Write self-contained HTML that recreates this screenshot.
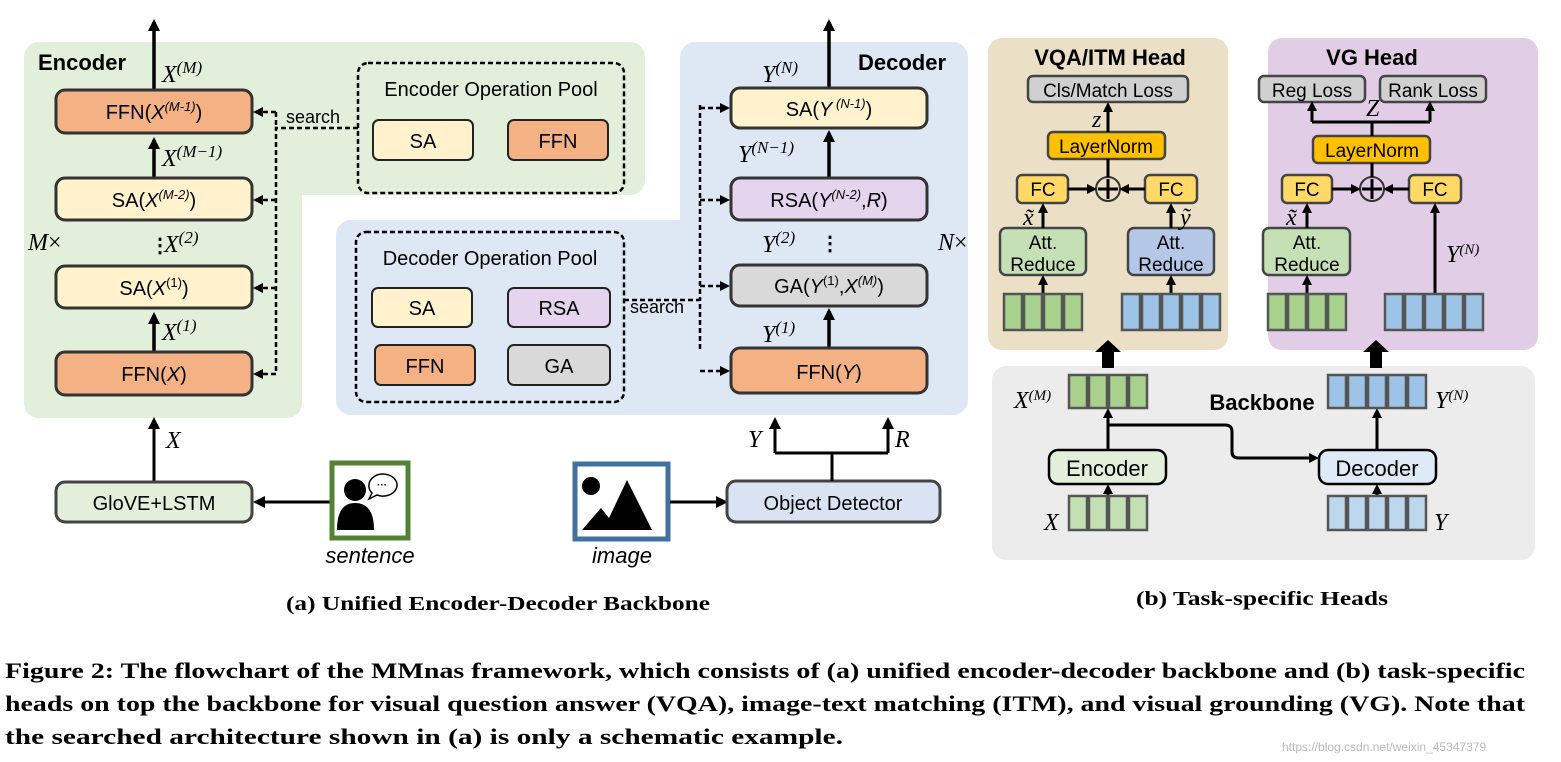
<!DOCTYPE html>
<html><head><meta charset="utf-8"><style>
body{margin:0;background:#fff}
svg{display:block}
text{font-family:"Liberation Sans",sans-serif}
text.m{font-family:"Liberation Serif",serif;font-style:italic;font-size:24px}
.b{stroke:#333;stroke-width:3}
.t{font-size:20px;text-anchor:middle}
text.c{font-family:"Liberation Serif",serif;font-weight:bold}
</style></head><body>
<svg width="1561" height="762" viewBox="0 0 1561 762">
<defs>
<marker id="a" markerWidth="10" markerHeight="10" refX="7" refY="5" orient="auto" markerUnits="userSpaceOnUse"><path d="M0,0L10,5L0,10z" fill="#000"/></marker>
<marker id="ab" markerWidth="12" markerHeight="12" refX="9" refY="6" orient="auto" markerUnits="userSpaceOnUse"><path d="M0,0L12,6L0,12z" fill="#000"/></marker>
</defs>
<path d="M39,42H630a15,15 0 0 1 15,15V180a15,15 0 0 1-15,15H302V403a15,15 0 0 1-15,15H39a15,15 0 0 1-15-15V57a15,15 0 0 1 15-15z" fill="#e2efda"/>
<path d="M695,42H953a15,15 0 0 1 15,15V400a15,15 0 0 1-15,15H351a15,15 0 0 1-15-15V235a15,15 0 0 1 15-15H680V57a15,15 0 0 1 15-15z" fill="#dde8f4"/>
<text x="38" y="70" font-size="22" font-weight="bold">Encoder</text>
<text x="858" y="70" font-size="22" font-weight="bold">Decoder</text>
<line x1="154" y1="90" x2="154" y2="22" stroke="#000" stroke-width="3.5" marker-end="url(#ab)"/>
<line x1="154" y1="178" x2="154" y2="140" stroke="#000" stroke-width="3.5" marker-end="url(#ab)"/>
<line x1="154" y1="352" x2="154" y2="315" stroke="#000" stroke-width="3.5" marker-end="url(#ab)"/>
<rect x="56" y="90" width="196" height="43" rx="9" fill="#f4b183" class="b"/>
<rect x="56" y="178" width="196" height="42" rx="9" fill="#fff2cc" class="b"/>
<rect x="56" y="266" width="196" height="42" rx="9" fill="#fff2cc" class="b"/>
<rect x="56" y="352" width="196" height="43" rx="9" fill="#f4b183" class="b"/>
<text x="154" y="119" class="t">FFN(<tspan font-style="italic">X</tspan><tspan font-size="13" dy="-8" font-style="italic">(M-1)</tspan><tspan dy="8">)</tspan></text>
<text x="154" y="207" class="t">SA(<tspan font-style="italic">X</tspan><tspan font-size="13" dy="-8" font-style="italic">(M-2)</tspan><tspan dy="8">)</tspan></text>
<text x="154" y="295" class="t">SA(<tspan font-style="italic">X</tspan><tspan font-size="13" dy="-8">(1)</tspan><tspan dy="8">)</tspan></text>
<text x="154" y="381" class="t">FFN(<tspan font-style="italic">X</tspan>)</text>
<text x="162" y="82" class="m">X<tspan font-size="17" dy="-9">(M)</tspan></text>
<text x="162" y="166" class="m">X<tspan font-size="17" dy="-9">(M−1)</tspan></text>
<text x="150" y="252" font-size="20" font-weight="bold">⋮</text>
<text x="164" y="252" class="m">X<tspan font-size="17" dy="-9">(2)</tspan></text>
<text x="28" y="250" class="m">M<tspan font-style="normal">×</tspan></text>
<text x="162" y="340" class="m">X<tspan font-size="17" dy="-9">(1)</tspan></text>
<g fill="none" stroke="#000" stroke-width="2.5" stroke-dasharray="5,3">
<path d="M358,128H276V374"/>
<line x1="276" y1="112" x2="256" y2="112" marker-end="url(#a)"/>
<line x1="276" y1="200" x2="256" y2="200" marker-end="url(#a)"/>
<line x1="276" y1="288" x2="256" y2="288" marker-end="url(#a)"/>
<line x1="276" y1="374" x2="256" y2="374" marker-end="url(#a)"/>
<path d="M276,112V128"/>
<rect x="358" y="63" width="266" height="130" rx="10"/>
<rect x="356" y="232" width="268" height="170" rx="10"/>
<path d="M624,300H700V352"/><path d="M700,105V300"/>
<line x1="700" y1="108" x2="727" y2="108" marker-end="url(#a)"/>
<line x1="700" y1="200" x2="727" y2="200" marker-end="url(#a)"/>
<line x1="700" y1="286" x2="727" y2="286" marker-end="url(#a)"/>
<line x1="700" y1="371" x2="727" y2="371" marker-end="url(#a)"/>
</g>
<text x="286" y="123" font-size="18">search</text>
<text x="630" y="313" font-size="18">search</text>
<text x="491" y="96" class="t" font-size="19">Encoder Operation Pool</text>
<rect x="373" y="120" width="100" height="40" rx="6" fill="#fff2cc" stroke="#222" stroke-width="2"/>
<rect x="508" y="120" width="100" height="40" rx="6" fill="#f4b183" stroke="#222" stroke-width="2"/>
<text x="423" y="148" class="t">SA</text><text x="558" y="148" class="t">FFN</text>
<text x="490" y="265" class="t" font-size="19">Decoder Operation Pool</text>
<rect x="372" y="288" width="100" height="39" rx="6" fill="#fff2cc" stroke="#222" stroke-width="2"/>
<rect x="508" y="288" width="102" height="39" rx="6" fill="#e4d4ee" stroke="#222" stroke-width="2"/>
<rect x="375" y="345" width="100" height="40" rx="6" fill="#f4b183" stroke="#222" stroke-width="2"/>
<rect x="508" y="345" width="102" height="40" rx="6" fill="#d9d9d9" stroke="#222" stroke-width="2"/>
<text x="422" y="315" class="t">SA</text><text x="559" y="315" class="t">RSA</text>
<text x="425" y="373" class="t">FFN</text><text x="559" y="373" class="t">GA</text>
<line x1="829" y1="88" x2="829" y2="22" stroke="#000" stroke-width="3.5" marker-end="url(#ab)"/>
<line x1="829" y1="178" x2="829" y2="133" stroke="#000" stroke-width="3.5" marker-end="url(#ab)"/>
<line x1="829" y1="348" x2="829" y2="311" stroke="#000" stroke-width="3.5" marker-end="url(#ab)"/>
<rect x="731" y="88" width="196" height="40" rx="9" fill="#fff2cc" class="b"/>
<rect x="731" y="178" width="196" height="42" rx="9" fill="#e4d4ee" class="b"/>
<rect x="731" y="265" width="196" height="41" rx="9" fill="#d9d9d9" class="b"/>
<rect x="731" y="348" width="196" height="45" rx="9" fill="#f4b183" class="b"/>
<text x="829" y="116" class="t">SA(<tspan font-style="italic">Y</tspan><tspan font-size="13" dy="-8" font-style="italic"> (N-1)</tspan><tspan dy="8">)</tspan></text>
<text x="829" y="207" class="t">RSA(<tspan font-style="italic">Y</tspan><tspan font-size="13" dy="-8" font-style="italic">(N-2)</tspan><tspan dy="8">,<tspan font-style="italic">R</tspan>)</tspan></text>
<text x="829" y="293" class="t">GA(<tspan font-style="italic">Y</tspan><tspan font-size="13" dy="-8">(1)</tspan><tspan dy="8">,<tspan font-style="italic">X</tspan></tspan><tspan font-size="13" dy="-8" font-style="italic">(M)</tspan><tspan dy="8">)</tspan></text>
<text x="829" y="379" class="t">FFN(<tspan font-style="italic">Y</tspan>)</text>
<text x="762" y="82" class="m">Y<tspan font-size="17" dy="-9">(N)</tspan></text>
<text x="738" y="162" class="m">Y<tspan font-size="17" dy="-9">(N−1)</tspan></text>
<text x="762" y="252" class="m">Y<tspan font-size="17" dy="-9">(2)</tspan></text>
<text x="820" y="250" font-size="20" font-weight="bold">⋮</text>
<text x="938" y="250" class="m">N<tspan font-style="normal">×</tspan></text>
<text x="762" y="342" class="m">Y<tspan font-size="17" dy="-9">(1)</tspan></text>
<line x1="154" y1="482" x2="154" y2="420" stroke="#000" stroke-width="3" marker-end="url(#ab)"/>
<text x="166" y="448" class="m">X</text>
<rect x="56" y="482" width="196" height="40" rx="9" fill="#e2efda" stroke="#444" stroke-width="3"/>
<text x="154" y="510" class="t">GloVE+LSTM</text>
<line x1="330" y1="502" x2="256" y2="502" stroke="#000" stroke-width="3" marker-end="url(#ab)"/>
<rect x="332" y="463" width="76" height="75" fill="#fff" stroke="#548235" stroke-width="5"/>
<circle cx="355" cy="490" r="11"/><path d="M337,530Q337,503 355,503Q374,503 374,530z"/>
<path d="M369,485a14,11 0 1 1 8,10l-8,4 3-6a14,11 0 0 1-3-8z" fill="#fff" stroke="#000" stroke-width="1.5"/>
<text x="377" y="488" font-size="10" font-weight="bold">···</text>
<text x="370" y="563" font-size="22" font-style="italic" text-anchor="middle">sentence</text>
<rect x="575" y="464" width="93" height="75" fill="#fff" stroke="#41719c" stroke-width="5"/>
<circle cx="591" cy="486" r="9"/><path d="M582,530L601,508 609,518 627,480 652,530z"/>
<text x="622" y="563" font-size="22" font-style="italic" text-anchor="middle">image</text>
<line x1="670" y1="502" x2="725" y2="502" stroke="#000" stroke-width="3" marker-end="url(#ab)"/>
<rect x="727" y="481" width="213" height="41" rx="9" fill="#dae3f3" stroke="#444" stroke-width="3"/>
<text x="833" y="510" class="t" font-size="21">Object Detector</text>
<path d="M832,481V453M775,453H888M775,453V424M888,453V424" fill="none" stroke="#000" stroke-width="3"/>
<line x1="775" y1="430" x2="775" y2="420" stroke="#000" stroke-width="3" marker-end="url(#ab)"/>
<line x1="888" y1="430" x2="888" y2="420" stroke="#000" stroke-width="3" marker-end="url(#ab)"/>
<text x="748" y="447" class="m">Y</text><text x="895" y="447" class="m">R</text>
<text x="286" y="610" class="c" font-size="20" textLength="424" lengthAdjust="spacingAndGlyphs">(a) Unified Encoder-Decoder Backbone</text>
<text x="1136" y="605" class="c" font-size="20" textLength="252" lengthAdjust="spacingAndGlyphs">(b) Task-specific Heads</text>
<rect x="988" y="38" width="240" height="312" rx="14" fill="#ebe0c5"/>
<rect x="1268" y="38" width="270" height="312" rx="14" fill="#e2cde6"/>
<rect x="992" y="366" width="543" height="194" rx="14" fill="#ececec"/>
<text x="1110" y="65" font-size="22" font-weight="bold" text-anchor="middle">VQA/ITM Head</text>
<text x="1372" y="65" font-size="22" font-weight="bold" text-anchor="middle">VG Head</text>
<g stroke="#444" stroke-width="2.5">
<rect x="1028" y="76" width="160" height="26" rx="5" fill="#d0d0d0"/>
<rect x="1259" y="76" width="106" height="26" rx="5" fill="#d0d0d0"/>
<rect x="1380" y="76" width="106" height="26" rx="5" fill="#d0d0d0"/>
<rect x="1048" y="132" width="117" height="27" rx="5" fill="#ffc000"/>
<rect x="1313" y="136" width="117" height="27" rx="5" fill="#ffc000"/>
<rect x="1017" y="175" width="51" height="28" rx="5" fill="#ffd966"/>
<rect x="1145" y="175" width="52" height="28" rx="5" fill="#ffd966"/>
<rect x="1282" y="175" width="50" height="28" rx="5" fill="#ffd966"/>
<rect x="1409" y="175" width="52" height="28" rx="5" fill="#ffd966"/>
<rect x="1000" y="228" width="86" height="47" rx="6" fill="#c5e0b4"/>
<rect x="1128" y="228" width="86" height="47" rx="6" fill="#b4c7e7"/>
<rect x="1263" y="228" width="87" height="47" rx="6" fill="#c5e0b4"/>
<rect x="1049" y="450" width="117" height="34" rx="9" fill="#e2efda" stroke="#000"/>
<rect x="1319" y="450" width="117" height="34" rx="9" fill="#deebf7" stroke="#000"/>
</g>
<g font-size="19" text-anchor="middle">
<text x="1108" y="97">Cls/Match Loss</text><text x="1312" y="97">Reg Loss</text><text x="1433" y="97">Rank Loss</text>
<text x="1106" y="153">LayerNorm</text><text x="1372" y="157">LayerNorm</text>
<text x="1043" y="196">FC</text><text x="1171" y="196">FC</text><text x="1307" y="196">FC</text><text x="1435" y="196">FC</text>
<text x="1043" y="249">Att.</text><text x="1043" y="271">Reduce</text>
<text x="1171" y="249">Att.</text><text x="1171" y="271">Reduce</text>
<text x="1307" y="249">Att.</text><text x="1307" y="271">Reduce</text>
<text x="1107" y="476" font-size="22">Encoder</text><text x="1377" y="476" font-size="22">Decoder</text>
</g>
<text x="1262" y="410" font-size="22" font-weight="bold" text-anchor="middle">Backbone</text>
<g stroke="#000" stroke-width="3" fill="none">
<circle cx="1108" cy="189" r="12" stroke="#333" stroke-width="2"/>
<path d="M1108,179V199M1098,189H1118"/>
<circle cx="1372" cy="189" r="12" stroke="#333" stroke-width="2"/>
<path d="M1372,179V199M1362,189H1382"/>
<path d="M1108,177V159"/><path d="M1372,177V163"/>
<path d="M1372,136V122M1312,122H1430M1312,122V110M1430,122V110"/>
<line x1="1312" y1="112" x2="1312" y2="104" marker-end="url(#a)"/>
<line x1="1430" y1="112" x2="1430" y2="104" marker-end="url(#a)"/>
<line x1="1108" y1="132" x2="1108" y2="105" marker-end="url(#a)"/>
<line x1="1068" y1="189" x2="1094" y2="189" marker-end="url(#a)"/>
<line x1="1145" y1="189" x2="1122" y2="189" marker-end="url(#a)"/>
<line x1="1332" y1="189" x2="1358" y2="189" marker-end="url(#a)"/>
<line x1="1409" y1="189" x2="1386" y2="189" marker-end="url(#a)"/>
<line x1="1043" y1="228" x2="1043" y2="206" marker-end="url(#a)"/>
<line x1="1171" y1="228" x2="1171" y2="206" marker-end="url(#a)"/>
<line x1="1307" y1="228" x2="1307" y2="206" marker-end="url(#a)"/>
<line x1="1435" y1="293" x2="1435" y2="206" marker-end="url(#a)"/>
<line x1="1043" y1="293" x2="1043" y2="278" marker-end="url(#a)"/>
<line x1="1171" y1="293" x2="1171" y2="278" marker-end="url(#a)"/>
<line x1="1307" y1="293" x2="1307" y2="278" marker-end="url(#a)"/>
<line x1="1108" y1="450" x2="1108" y2="411" marker-end="url(#a)"/>
<line x1="1108" y1="495" x2="1108" y2="487" marker-end="url(#a)"/>
<line x1="1377" y1="450" x2="1377" y2="411" marker-end="url(#a)"/>
<line x1="1377" y1="495" x2="1377" y2="487" marker-end="url(#a)"/>
<path d="M1108,425H1225Q1232,425 1232,432V452Q1232,458 1239,458H1310"/>
<line x1="1300" y1="458" x2="1316" y2="458" marker-end="url(#a)"/>
</g>
<path d="M1102,368V352H1095L1108,340 1121,352H1114V368z"/>
<path d="M1370,368V352H1363L1376,340 1389,352H1382V368z"/>
<g stroke="#555" stroke-width="2.5">
<g fill="#a9d18e"><rect x="1004" y="294" width="18" height="36"/><rect x="1024" y="294" width="18" height="36"/><rect x="1044" y="294" width="18" height="36"/><rect x="1064" y="294" width="18" height="36"/>
<rect x="1268" y="294" width="18" height="36"/><rect x="1288" y="294" width="18" height="36"/><rect x="1308" y="294" width="18" height="36"/><rect x="1328" y="294" width="18" height="36"/>
<rect x="1069" y="375" width="18" height="33"/><rect x="1089" y="375" width="18" height="33"/><rect x="1109" y="375" width="18" height="33"/><rect x="1129" y="375" width="18" height="33"/></g>
<g fill="#9dc3e6"><rect x="1122" y="294" width="18" height="36"/><rect x="1142" y="294" width="18" height="36"/><rect x="1162" y="294" width="18" height="36"/><rect x="1182" y="294" width="18" height="36"/><rect x="1202" y="294" width="18" height="36"/>
<rect x="1385" y="294" width="18" height="36"/><rect x="1405" y="294" width="18" height="36"/><rect x="1425" y="294" width="18" height="36"/><rect x="1445" y="294" width="18" height="36"/><rect x="1465" y="294" width="18" height="36"/>
<rect x="1328" y="375" width="18" height="33"/><rect x="1348" y="375" width="18" height="33"/><rect x="1368" y="375" width="18" height="33"/><rect x="1388" y="375" width="18" height="33"/><rect x="1408" y="375" width="18" height="33"/></g>
<g fill="#c5e0b4"><rect x="1069" y="496" width="18" height="34"/><rect x="1089" y="496" width="18" height="34"/><rect x="1109" y="496" width="18" height="34"/><rect x="1129" y="496" width="18" height="34"/></g>
<g fill="#bdd7ee"><rect x="1328" y="496" width="18" height="34"/><rect x="1348" y="496" width="18" height="34"/><rect x="1368" y="496" width="18" height="34"/><rect x="1388" y="496" width="18" height="34"/><rect x="1408" y="496" width="18" height="34"/></g>
</g>
<text x="1092" y="127" class="m" font-size="18">z</text>
<text x="1366" y="116" class="m" font-size="20">Z</text>
<text x="1023" y="225" class="m" font-size="18">x̃</text>
<text x="1180" y="225" class="m" font-size="18">ỹ</text>
<text x="1286" y="225" class="m" font-size="18">x̃</text>
<text x="1446" y="262" class="m" font-size="22">Y<tspan font-size="15" dy="-8">(N)</tspan></text>
<text x="1014" y="408" class="m" font-size="22">X<tspan font-size="15" dy="-8">(M)</tspan></text>
<text x="1435" y="408" class="m" font-size="22">Y<tspan font-size="15" dy="-8">(N)</tspan></text>
<text x="1044" y="530" class="m">X</text>
<text x="1434" y="530" class="m">Y</text>
<text x="5" y="678" class="c" font-size="22" textLength="1520" lengthAdjust="spacingAndGlyphs">Figure 2: The flowchart of the MMnas framework, which consists of (a) unified encoder-decoder backbone and (b) task-specific</text>
<text x="5" y="711" class="c" font-size="22" textLength="1520" lengthAdjust="spacingAndGlyphs">heads on top the backbone for visual question answer (VQA), image-text matching (ITM), and visual grounding (VG). Note that</text>
<text x="5" y="744" class="c" font-size="22" textLength="838" lengthAdjust="spacingAndGlyphs">the searched architecture shown in (a) is only a schematic example.</text>
<text x="1282" y="751" font-size="12" fill="#bbb">https://blog.csdn.net/weixin_45347379</text>
</svg>
</body></html>
